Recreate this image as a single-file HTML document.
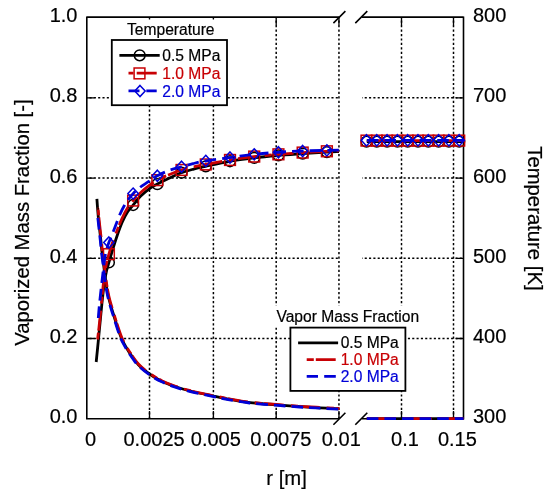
<!DOCTYPE html><html><head><meta charset="utf-8"><title>Vaporized Mass Fraction and Temperature vs r</title>
<style>html,body{margin:0;padding:0;background:#fff;}body{width:550px;height:494px;overflow:hidden;}svg{display:block;}text{font-family:"Liberation Sans", Arial, Helvetica, sans-serif;}</style>
</head><body>
<svg width="550" height="494" viewBox="0 0 550 494">
<rect x="0" y="0" width="550" height="494" fill="#fff"/>
<path d="M149.50 17.10 V418.80 M213.40 17.10 V418.80 M276.20 17.10 V418.80 M338.95 17.10 V418.80 M401.50 17.10 V418.80 M453.50 17.10 V418.80" fill="none" stroke="#000" stroke-width="1.50" stroke-dasharray="2.2 2.25" stroke-dashoffset="0.96"/>
<path d="M86.80 338.50 H339.00 M362.00 338.50 H463.50 M86.80 258.30 H339.00 M362.00 258.30 H463.50 M86.80 178.05 H339.00 M362.00 178.05 H463.50 M86.80 97.83 H339.00 M362.00 97.83 H463.50" fill="none" stroke="#000" stroke-width="1.50" stroke-dasharray="2.1 2.22" stroke-dashoffset="1.61"/>
<path d="M149.50 418.80 V411.00 M149.50 17.10 V24.90 M213.40 418.80 V411.00 M213.40 17.10 V24.90 M276.20 418.80 V411.00 M276.20 17.10 V24.90 M338.95 418.80 V411.00 M338.95 17.10 V24.90 M401.50 418.80 V411.00 M401.50 17.10 V24.90 M453.50 418.80 V411.00 M453.50 17.10 V24.90 M86.80 338.50 H94.40 M463.50 338.50 H455.90 M86.80 258.30 H94.40 M463.50 258.30 H455.90 M86.80 178.05 H94.40 M463.50 178.05 H455.90 M86.80 97.83 H94.40 M463.50 97.83 H455.90" fill="none" stroke="#000" stroke-width="1.3"/>
<path d="M86.80 16.40 V419.50 M86.80 17.10 H339.00 M86.80 418.80 H339.00 M362.00 17.10 H463.50 M362.00 418.80 H463.50 M463.50 16.40 V419.50" fill="none" stroke="#000" stroke-width="1.6"/>
<path d="M333.40 23.10 L345.40 11.10 M355.30 23.10 L367.30 11.10 M333.40 424.80 L345.40 412.80 M355.30 424.80 L367.30 412.80" fill="none" stroke="#000" stroke-width="1.6"/>
<g fill="none" stroke="#000" stroke-width="2.80" stroke-linejoin="round">
<path d="M96.90 198.90 C97.03 200.75 97.42 206.48 97.70 210.00 C97.98 213.52 98.27 216.67 98.60 220.00 C98.93 223.33 99.33 226.67 99.70 230.00 C100.07 233.33 100.43 236.45 100.80 240.00 C101.17 243.55 101.43 247.22 101.90 251.30 C102.37 255.38 103.05 260.12 103.60 264.50 C104.15 268.88 104.63 273.43 105.20 277.60 C105.77 281.77 106.33 285.77 107.00 289.50 C107.67 293.23 108.07 295.67 109.20 300.00 C110.33 304.33 112.23 310.40 113.80 315.50 C115.37 320.60 117.33 326.82 118.60 330.60 C119.87 334.38 120.37 335.80 121.40 338.20 C122.43 340.60 123.47 342.60 124.80 345.00 C126.13 347.40 127.13 349.30 129.40 352.60 C131.67 355.90 135.05 361.23 138.40 364.80 C141.75 368.37 145.62 371.27 149.50 374.00 C153.38 376.73 157.45 379.12 161.70 381.20 C165.95 383.28 170.28 384.87 175.00 386.50 C179.72 388.13 183.67 389.42 190.00 391.00 C196.33 392.58 206.33 394.60 213.00 396.00 C219.67 397.40 223.83 398.30 230.00 399.40 C236.17 400.50 242.33 401.70 250.00 402.60 C257.67 403.50 267.67 404.13 276.00 404.80 C284.33 405.47 292.67 406.10 300.00 406.60 C307.33 407.10 313.50 407.43 320.00 407.80 C326.50 408.17 335.83 408.63 339.00 408.80"/>
<path d="M366.80 418.60 H463.50"/>
<path d="M96.20 362.00 C96.53 358.67 97.50 349.17 98.20 342.00 C98.90 334.83 99.68 326.33 100.40 319.00 C101.12 311.67 101.80 304.33 102.50 298.00 C103.20 291.67 103.97 285.33 104.60 281.00 C105.23 276.67 105.68 274.75 106.30 272.00 C106.92 269.25 107.33 267.92 108.30 264.50 C109.27 261.08 110.62 256.33 112.10 251.50 C113.58 246.67 115.50 240.42 117.20 235.50 C118.90 230.58 120.58 225.92 122.30 222.00 C124.02 218.08 125.67 214.87 127.50 212.00 C129.33 209.13 131.13 207.42 133.30 204.80 C135.47 202.18 137.78 199.00 140.50 196.30 C143.22 193.60 146.78 190.63 149.60 188.60 C152.42 186.57 154.17 185.82 157.40 184.10 C160.63 182.38 165.00 180.18 169.00 178.30 C173.00 176.42 177.40 174.30 181.40 172.80 C185.40 171.30 189.00 170.37 193.00 169.30 C197.00 168.23 199.27 167.73 205.40 166.40 C211.53 165.07 221.73 162.72 229.80 161.30 C237.87 159.88 245.87 158.87 253.80 157.90 C261.73 156.93 269.35 156.20 277.40 155.50 C285.45 154.80 293.92 154.27 302.10 153.70 C310.28 153.13 320.35 152.47 326.50 152.10 C332.65 151.73 336.92 151.60 339.00 151.50"/>
<path d="M366.80 141.60 H463.50"/>
</g>
<g fill="none" stroke="#000" stroke-width="1.5">
<circle cx="108.90" cy="262.45" r="5.4"/>
<circle cx="133.12" cy="205.02" r="5.4"/>
<circle cx="157.34" cy="184.13" r="5.4"/>
<circle cx="181.56" cy="172.75" r="5.4"/>
<circle cx="205.78" cy="166.32" r="5.4"/>
<circle cx="230.00" cy="161.27" r="5.4"/>
<circle cx="254.22" cy="157.86" r="5.4"/>
<circle cx="278.44" cy="155.42" r="5.4"/>
<circle cx="302.66" cy="153.66" r="5.4"/>
<circle cx="326.88" cy="152.08" r="5.4"/>
<circle cx="366.50" cy="141.60" r="5.4"/>
<circle cx="376.80" cy="141.60" r="5.4"/>
<circle cx="387.10" cy="141.60" r="5.4"/>
<circle cx="397.40" cy="141.60" r="5.4"/>
<circle cx="407.70" cy="141.60" r="5.4"/>
<circle cx="418.00" cy="141.60" r="5.4"/>
<circle cx="428.30" cy="141.60" r="5.4"/>
<circle cx="438.60" cy="141.60" r="5.4"/>
<circle cx="448.90" cy="141.60" r="5.4"/>
<circle cx="459.20" cy="141.60" r="5.4"/>
</g>
<g fill="none" stroke="#c80004" stroke-width="2.80" stroke-dasharray="7 2 20 7">
<path d="M97.69 209.80 C97.69 209.83 97.55 208.30 97.70 210.00 C97.85 211.70 98.27 216.67 98.60 220.00 C98.93 223.33 99.33 226.67 99.70 230.00 C100.07 233.33 100.43 236.45 100.80 240.00 C101.17 243.55 101.43 247.22 101.90 251.30 C102.37 255.38 103.05 260.12 103.60 264.50 C104.15 268.88 104.63 273.43 105.20 277.60 C105.77 281.77 106.33 285.77 107.00 289.50 C107.67 293.23 108.07 295.67 109.20 300.00 C110.33 304.33 112.23 310.40 113.80 315.50 C115.37 320.60 117.33 326.82 118.60 330.60 C119.87 334.38 120.37 335.80 121.40 338.20 C122.43 340.60 123.47 342.60 124.80 345.00 C126.13 347.40 127.13 349.30 129.40 352.60 C131.67 355.90 135.05 361.23 138.40 364.80 C141.75 368.37 145.62 371.27 149.50 374.00 C153.38 376.73 157.45 379.12 161.70 381.20 C165.95 383.28 170.28 384.87 175.00 386.50 C179.72 388.13 183.67 389.42 190.00 391.00 C196.33 392.58 206.33 394.60 213.00 396.00 C219.67 397.40 223.83 398.30 230.00 399.40 C236.17 400.50 242.33 401.70 250.00 402.60 C257.67 403.50 267.67 404.13 276.00 404.80 C284.33 405.47 292.67 406.10 300.00 406.60 C307.33 407.10 313.50 407.43 320.00 407.80 C326.50 408.17 335.83 408.63 339.00 408.80" transform="translate(0.5,-0.3)"/>
<path d="M366.80 418.60 H463.50"/>
<path d="M97.60 339.50 C97.97 336.25 99.10 326.58 99.80 320.00 C100.50 313.42 101.17 306.33 101.80 300.00 C102.43 293.67 102.97 287.33 103.60 282.00 C104.23 276.67 104.78 272.42 105.60 268.00 C106.42 263.58 107.43 259.50 108.50 255.50 C109.57 251.50 110.67 247.92 112.00 244.00 C113.33 240.08 114.83 236.25 116.50 232.00 C118.17 227.75 120.17 222.50 122.00 218.50 C123.83 214.50 125.62 211.03 127.50 208.00 C129.38 204.97 131.13 202.83 133.30 200.30 C135.47 197.77 137.78 195.32 140.50 192.80 C143.22 190.28 146.78 187.32 149.60 185.20 C152.42 183.08 154.17 181.85 157.40 180.10 C160.63 178.35 165.00 176.38 169.00 174.70 C173.00 173.02 177.40 171.28 181.40 170.00 C185.40 168.72 189.00 167.92 193.00 167.00 C197.00 166.08 199.27 165.67 205.40 164.50 C211.53 163.33 221.73 161.32 229.80 160.00 C237.87 158.68 245.87 157.53 253.80 156.60 C261.73 155.67 269.35 155.07 277.40 154.40 C285.45 153.73 293.92 153.12 302.10 152.60 C310.28 152.08 320.35 151.60 326.50 151.30 C332.65 151.00 336.92 150.88 339.00 150.80"/>
<path d="M366.80 140.60 H463.50"/>
</g>
<g fill="none" stroke="#c80004" stroke-width="1.5">
<rect x="103.50" y="248.79" width="10.8" height="10.8"/>
<rect x="127.72" y="195.14" width="10.8" height="10.8"/>
<rect x="151.94" y="174.74" width="10.8" height="10.8"/>
<rect x="176.16" y="164.56" width="10.8" height="10.8"/>
<rect x="200.38" y="159.03" width="10.8" height="10.8"/>
<rect x="224.60" y="154.57" width="10.8" height="10.8"/>
<rect x="248.82" y="151.16" width="10.8" height="10.8"/>
<rect x="273.04" y="148.92" width="10.8" height="10.8"/>
<rect x="297.26" y="147.17" width="10.8" height="10.8"/>
<rect x="321.48" y="145.88" width="10.8" height="10.8"/>
<rect x="361.10" y="135.20" width="10.8" height="10.8"/>
<rect x="371.40" y="135.20" width="10.8" height="10.8"/>
<rect x="381.70" y="135.20" width="10.8" height="10.8"/>
<rect x="392.00" y="135.20" width="10.8" height="10.8"/>
<rect x="402.30" y="135.20" width="10.8" height="10.8"/>
<rect x="412.60" y="135.20" width="10.8" height="10.8"/>
<rect x="422.90" y="135.20" width="10.8" height="10.8"/>
<rect x="433.20" y="135.20" width="10.8" height="10.8"/>
<rect x="443.50" y="135.20" width="10.8" height="10.8"/>
<rect x="453.80" y="135.20" width="10.8" height="10.8"/>
</g>
<g fill="none" stroke="#0000d8" stroke-width="2.80" stroke-dasharray="11.6 6">
<path d="M98.38 217.50 C98.41 217.92 98.38 217.92 98.60 220.00 C98.82 222.08 99.33 226.67 99.70 230.00 C100.07 233.33 100.43 236.45 100.80 240.00 C101.17 243.55 101.43 247.22 101.90 251.30 C102.37 255.38 103.05 260.12 103.60 264.50 C104.15 268.88 104.63 273.43 105.20 277.60 C105.77 281.77 106.33 285.77 107.00 289.50 C107.67 293.23 108.07 295.67 109.20 300.00 C110.33 304.33 112.23 310.40 113.80 315.50 C115.37 320.60 117.33 326.82 118.60 330.60 C119.87 334.38 120.37 335.80 121.40 338.20 C122.43 340.60 123.47 342.60 124.80 345.00 C126.13 347.40 127.13 349.30 129.40 352.60 C131.67 355.90 135.05 361.23 138.40 364.80 C141.75 368.37 145.62 371.27 149.50 374.00 C153.38 376.73 157.45 379.12 161.70 381.20 C165.95 383.28 170.28 384.87 175.00 386.50 C179.72 388.13 183.67 389.42 190.00 391.00 C196.33 392.58 206.33 394.60 213.00 396.00 C219.67 397.40 223.83 398.30 230.00 399.40 C236.17 400.50 242.33 401.70 250.00 402.60 C257.67 403.50 267.67 404.13 276.00 404.80 C284.33 405.47 292.67 406.10 300.00 406.60 C307.33 407.10 313.50 407.43 320.00 407.80 C326.50 408.17 335.83 408.63 339.00 408.80" transform="translate(-0.5,0.4)"/>
<path d="M366.80 418.60 H463.50"/>
<path d="M98.30 318.00 C98.48 315.83 98.95 309.67 99.40 305.00 C99.85 300.33 100.47 294.83 101.00 290.00 C101.53 285.17 101.97 281.33 102.60 276.00 C103.23 270.67 104.13 262.42 104.80 258.00 C105.47 253.58 105.95 252.00 106.60 249.50 C107.25 247.00 107.75 245.55 108.70 243.00 C109.65 240.45 111.08 237.28 112.30 234.20 C113.52 231.12 114.72 227.83 116.00 224.50 C117.28 221.17 118.58 217.42 120.00 214.20 C121.42 210.98 123.00 207.82 124.50 205.20 C126.00 202.58 127.53 200.47 129.00 198.50 C130.47 196.53 131.38 195.32 133.30 193.40 C135.22 191.48 138.12 188.87 140.50 187.00 C142.88 185.13 144.78 184.08 147.60 182.20 C150.42 180.32 153.83 177.65 157.40 175.70 C160.97 173.75 165.00 171.98 169.00 170.50 C173.00 169.02 177.40 167.95 181.40 166.80 C185.40 165.65 189.00 164.57 193.00 163.60 C197.00 162.63 199.27 162.00 205.40 161.00 C211.53 160.00 221.73 158.70 229.80 157.60 C237.87 156.50 245.87 155.28 253.80 154.40 C261.73 153.52 269.35 152.87 277.40 152.30 C285.45 151.73 293.92 151.32 302.10 151.00 C310.28 150.68 320.35 150.55 326.50 150.40 C332.65 150.25 336.92 150.15 339.00 150.10"/>
<path d="M366.80 140.30 H463.50"/>
</g>
<g fill="none" stroke="#0000d8" stroke-width="1.5">
<path d="M108.90 236.91 L114.10 242.51 L108.90 248.11 L103.70 242.51 Z"/>
<path d="M133.12 188.01 L138.32 193.61 L133.12 199.21 L127.92 193.61 Z"/>
<path d="M157.34 170.14 L162.54 175.74 L157.34 181.34 L152.14 175.74 Z"/>
<path d="M181.56 161.16 L186.76 166.76 L181.56 172.36 L176.36 166.76 Z"/>
<path d="M205.78 155.35 L210.98 160.95 L205.78 166.55 L200.58 160.95 Z"/>
<path d="M230.00 151.97 L235.20 157.57 L230.00 163.17 L224.80 157.57 Z"/>
<path d="M254.22 148.76 L259.42 154.36 L254.22 159.96 L249.02 154.36 Z"/>
<path d="M278.44 146.65 L283.64 152.25 L278.44 157.85 L273.24 152.25 Z"/>
<path d="M302.66 145.39 L307.86 150.99 L302.66 156.59 L297.46 150.99 Z"/>
<path d="M326.88 144.79 L332.08 150.39 L326.88 155.99 L321.68 150.39 Z"/>
<path d="M366.50 134.70 L371.70 140.30 L366.50 145.90 L361.30 140.30 Z"/>
<path d="M376.80 134.70 L382.00 140.30 L376.80 145.90 L371.60 140.30 Z"/>
<path d="M387.10 134.70 L392.30 140.30 L387.10 145.90 L381.90 140.30 Z"/>
<path d="M397.40 134.70 L402.60 140.30 L397.40 145.90 L392.20 140.30 Z"/>
<path d="M407.70 134.70 L412.90 140.30 L407.70 145.90 L402.50 140.30 Z"/>
<path d="M418.00 134.70 L423.20 140.30 L418.00 145.90 L412.80 140.30 Z"/>
<path d="M428.30 134.70 L433.50 140.30 L428.30 145.90 L423.10 140.30 Z"/>
<path d="M438.60 134.70 L443.80 140.30 L438.60 145.90 L433.40 140.30 Z"/>
<path d="M448.90 134.70 L454.10 140.30 L448.90 145.90 L443.70 140.30 Z"/>
<path d="M459.20 134.70 L464.40 140.30 L459.20 145.90 L454.00 140.30 Z"/>
</g>
<rect x="112" y="19.5" width="114.5" height="21" fill="#fff"/>
<text x="127.0" y="34.9" font-size="15.6" fill="#000" stroke="#000" stroke-width="0.20">Temperature</text>
<rect x="111.8" y="40.0" width="115.2" height="65.2" fill="#fff" stroke="#000" stroke-width="1.8"/>
<path d="M119.4 55.3 H159.7" stroke="#000" stroke-width="2.8"/>
<circle cx="139.7" cy="55.3" r="5.4" fill="none" stroke="#000" stroke-width="1.5"/>
<path d="M128.5 73.1 H133.5 M136.7 73.1 H156.7" stroke="#c80004" stroke-width="2.6"/>
<rect x="134.1" y="68.0" width="10.8" height="10.8" fill="none" stroke="#c80004" stroke-width="1.5"/>
<path d="M128.5 90.9 H139.5 M146.3 90.9 H156.7" stroke="#0000d8" stroke-width="2.7"/>
<path d="M140.00 85.40 L145.20 91.00 L140.00 96.60 L134.80 91.00 Z" fill="none" stroke="#0000d8" stroke-width="1.5"/>
<text x="162.3" y="61.0" font-size="15.6" fill="#000" stroke="#000" stroke-width="0.20">0.5 MPa</text>
<text x="162.3" y="78.8" font-size="15.6" fill="#c80004" stroke="#c80004" stroke-width="0.20">1.0 MPa</text>
<text x="162.3" y="96.6" font-size="15.6" fill="#0000d8" stroke="#0000d8" stroke-width="0.20">2.0 MPa</text>
<rect x="274" y="305.5" width="146" height="21" fill="#fff"/>
<text x="276.4" y="321.6" font-size="15.6" fill="#000" stroke="#000" stroke-width="0.20">Vapor Mass Fraction</text>
<rect x="290.4" y="327.6" width="115.0" height="63.3" fill="#fff" stroke="#000" stroke-width="1.8"/>
<path d="M298.1 342.9 H338.1" stroke="#000" stroke-width="2.8"/>
<path d="M306.7 359.6 H313.8 M315.8 359.6 H335.7" stroke="#c80004" stroke-width="2.7"/>
<path d="M306.7 376.4 H318.0 M324.2 376.4 H335.8" stroke="#0000d8" stroke-width="2.8"/>
<text x="340.7" y="348.3" font-size="15.6" fill="#000" stroke="#000" stroke-width="0.20">0.5 MPa</text>
<text x="340.7" y="364.9" font-size="15.6" fill="#c80004" stroke="#c80004" stroke-width="0.20">1.0 MPa</text>
<text x="340.7" y="381.6" font-size="15.6" fill="#0000d8" stroke="#0000d8" stroke-width="0.20">2.0 MPa</text>
<text x="77.5" y="21.60" font-size="20" text-anchor="end" stroke="#000" stroke-width="0.20">1.0</text>
<text x="77.5" y="102.33" font-size="20" text-anchor="end" stroke="#000" stroke-width="0.20">0.8</text>
<text x="77.5" y="182.55" font-size="20" text-anchor="end" stroke="#000" stroke-width="0.20">0.6</text>
<text x="77.5" y="262.80" font-size="20" text-anchor="end" stroke="#000" stroke-width="0.20">0.4</text>
<text x="77.5" y="343.00" font-size="20" text-anchor="end" stroke="#000" stroke-width="0.20">0.2</text>
<text x="77.5" y="423.30" font-size="20" text-anchor="end" stroke="#000" stroke-width="0.20">0.0</text>
<text x="473.0" y="21.60" font-size="20" stroke="#000" stroke-width="0.20">800</text>
<text x="473.0" y="102.33" font-size="20" stroke="#000" stroke-width="0.20">700</text>
<text x="473.0" y="182.55" font-size="20" stroke="#000" stroke-width="0.20">600</text>
<text x="473.0" y="262.80" font-size="20" stroke="#000" stroke-width="0.20">500</text>
<text x="473.0" y="343.00" font-size="20" stroke="#000" stroke-width="0.20">400</text>
<text x="473.0" y="423.30" font-size="20" stroke="#000" stroke-width="0.20">300</text>
<text x="90.60" y="446.4" font-size="20" text-anchor="middle" stroke="#000" stroke-width="0.20">0</text>
<text x="154.10" y="446.4" font-size="20" text-anchor="middle" stroke="#000" stroke-width="0.20">0.0025</text>
<text x="215.80" y="446.4" font-size="20" text-anchor="middle" stroke="#000" stroke-width="0.20">0.005</text>
<text x="280.80" y="446.4" font-size="20" text-anchor="middle" stroke="#000" stroke-width="0.20">0.0075</text>
<text x="341.30" y="446.4" font-size="20" text-anchor="middle" stroke="#000" stroke-width="0.20">0.01</text>
<text x="405.00" y="446.4" font-size="20" text-anchor="middle" stroke="#000" stroke-width="0.20">0.1</text>
<text x="457.40" y="446.4" font-size="20" text-anchor="middle" stroke="#000" stroke-width="0.20">0.15</text>
<text x="286.6" y="485.2" font-size="20.3" text-anchor="middle" stroke="#000" stroke-width="0.20">r [m]</text>
<text transform="translate(29.4,222.6) rotate(-90)" font-size="20.3" text-anchor="middle" stroke="#000" stroke-width="0.20">Vaporized Mass Fraction [-]</text>
<text transform="translate(528.3,218.4) rotate(90)" font-size="20.3" text-anchor="middle" stroke="#000" stroke-width="0.20">Temperature [K]</text>
</svg></body></html>
